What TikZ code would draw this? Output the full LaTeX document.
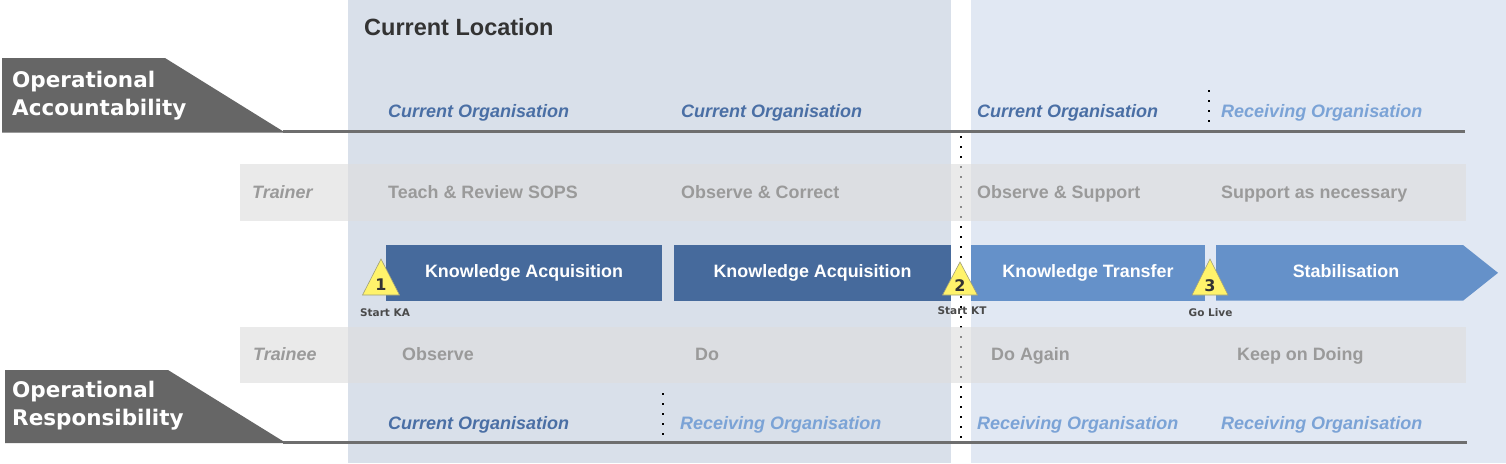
\documentclass[tikz,border=0pt]{standalone}
\usepackage{fontspec}
\setmainfont{Liberation Sans}
\newfontfamily\tabfont{DejaVu Sans}
\definecolor{panelL}{HTML}{D9E0EA}
\definecolor{panelR}{HTML}{E1E8F3}
\definecolor{bandgray}{HTML}{DEDEDE}
\definecolor{curblue}{HTML}{4A6FA5}
\definecolor{recblue}{HTML}{7BA3D6}
\definecolor{rowgray}{HTML}{9A9A9A}
\definecolor{darkbar}{HTML}{466A9C}
\definecolor{lightbar}{HTML}{6591C9}
\definecolor{triyellow}{HTML}{FFF36B}
\definecolor{tribord}{HTML}{9E9E7A}
\definecolor{msgray}{HTML}{4A4A4A}
\definecolor{numgray}{HTML}{333333}
\definecolor{tabgray}{HTML}{666666}
\definecolor{linegray}{HTML}{6E6E6E}
\definecolor{titlegray}{HTML}{333333}
\begin{document}
\begin{tikzpicture}[x=1pt,y=-1pt,
  orgcur/.style={anchor=base west,inner sep=0,font=\fontsize{18}{20}\selectfont\bfseries\itshape,text=curblue},
  orgrec/.style={orgcur,text=recblue},
  rowtxt/.style={anchor=base west,inner sep=0,font=\fontsize{17.9}{20}\selectfont\bfseries,text=rowgray},
  rolelbl/.style={anchor=base west,inner sep=0,font=\fontsize{17.9}{20}\selectfont\bfseries\itshape,text=rowgray},
  barbox/.style={rectangle,inner sep=0,minimum height=55.7pt,text height=12.9pt,text depth=3.8pt,font=\fontsize{17.9}{20}\selectfont\bfseries,text=white},
  barlbl/.style={anchor=base,inner sep=0,font=\fontsize{17.9}{20}\selectfont\bfseries,text=white},
  tabtxt/.style={anchor=base west,inner sep=0,font=\tabfont\fontsize{21.5}{28}\selectfont\bfseries,text=white},
  mslbl/.style={anchor=base,inner sep=0,font=\tabfont\fontsize{10.5}{12}\selectfont\bfseries,text=msgray},
  msnum/.style={anchor=base,inner sep=0,font=\tabfont\fontsize{16}{18}\selectfont\bfseries,text=numgray},
  tri/.style={fill=triyellow,draw=tribord,line width=0.6pt},
  dots/.style={line width=2pt,dash pattern=on 2pt off 8pt},
  ruleline/.style={line width=3pt,draw=linegray},
  band/.style={fill=bandgray,fill opacity=0.63}]
\useasboundingbox (0,0) rectangle (1506,463);
\fill[white] (0,0) rectangle (1506,463);
% panels
\fill[panelL] (348,0) rectangle (951,463);
\fill[panelR] (971,0) rectangle (1506,463);
\node[anchor=base west,inner sep=0,font=\fontsize{23.5}{26}\selectfont\bfseries,text=titlegray] (title) at (364,35) {Current Location};
% dotted separators
\draw[dots] (961,136) -- (961,440);
\draw[dots] (1209,90) -- (1209,131);
\draw[dots] (663,393) -- (663,438);
% bands
\fill[band] (240,164) rectangle (1466,220.5);
\fill[band] (240,327) rectangle (1466,383);
% tabs
\fill[tabgray] (2,58) -- (165,58) -- (285,132.5) -- (2,132.5) -- cycle;
\fill[tabgray] (5,370) -- (168,370) -- (286,443) -- (5,443) -- cycle;
\draw[ruleline] (283,131.5) -- (1465,131.5);
\draw[ruleline] (283,442) -- (1467,442);
\node[tabtxt] (oa1) at (12,87) {Operational};
\node[tabtxt] (oa2) at (12,115) {Accountability};
\node[tabtxt] (or1) at (12,397) {Operational};
\node[tabtxt] (or2) at (12,425) {Responsibility};
% organisation labels
\node[orgcur] (t1) at (388,117) {Current Organisation};
\node[orgcur] (t2) at (681,117) {Current Organisation};
\node[orgcur] (t3) at (977,117) {Current Organisation};
\node[orgrec] (t4) at (1221,117) {Receiving Organisation};
\node[orgcur] (b1) at (388,429) {Current Organisation};
\node[orgrec] (b2) at (680,429) {Receiving Organisation};
\node[orgrec] (b3) at (977,429) {Receiving Organisation};
\node[orgrec] (b4) at (1221,429) {Receiving Organisation};
% trainer row
\node[rolelbl] (trainer) at (252,198) {Trainer};
\node[rowtxt] (r1) at (388,198) {Teach \& Review SOPS};
\node[rowtxt] (r2) at (681,198) {Observe \& Correct};
\node[rowtxt] (r3) at (977,198) {Observe \& Support};
\node[rowtxt] (r4) at (1221,198) {Support as necessary};
% trainee row
\node[rolelbl] (trainee) at (253,360.5) {Trainee};
\node[rowtxt] (s1) at (402,360.5) {Observe};
\node[rowtxt] (s2) at (695,360.5) {Do};
\node[rowtxt] (s3) at (991,360.5) {Do Again};
\node[rowtxt] (s4) at (1237,360.5) {Keep on Doing};
% bars
\node[barbox,fill=darkbar,minimum width=276pt] (ka1) at (524,272.85) {Knowledge Acquisition};
\node[barbox,fill=darkbar,minimum width=277pt] (ka2) at (812.5,272.85) {Knowledge Acquisition};
\node[barbox,fill=lightbar,minimum width=234pt] (kt) at (1088,272.85) {Knowledge Transfer};
\fill[lightbar] (1216,245) -- (1463,245) -- (1498,272.85) -- (1463,300.7) -- (1216,300.7) -- cycle;
\node[barlbl] (stab) at (1346,277.7) {Stabilisation};
% milestones
\draw[tri] (381,259) -- (399.5,295) -- (362.5,295) -- cycle;
\node[msnum] (m1) at (381,290.5) {1};
\node[mslbl] (m1l) at (385,316) {Start KA};
\draw[tri] (960,262) -- (977.5,295) -- (942.5,295) -- cycle;
\node[msnum] (m2) at (960,291.5) {2};
\node[mslbl] (m2l) at (962,314) {Start KT};
\draw[tri] (1210,259) -- (1228,295) -- (1192,295) -- cycle;
\node[msnum] (m3) at (1210,291.5) {3};
\node[mslbl] (m3l) at (1210.5,316.5) {Go Live};
\end{tikzpicture}
\end{document}
